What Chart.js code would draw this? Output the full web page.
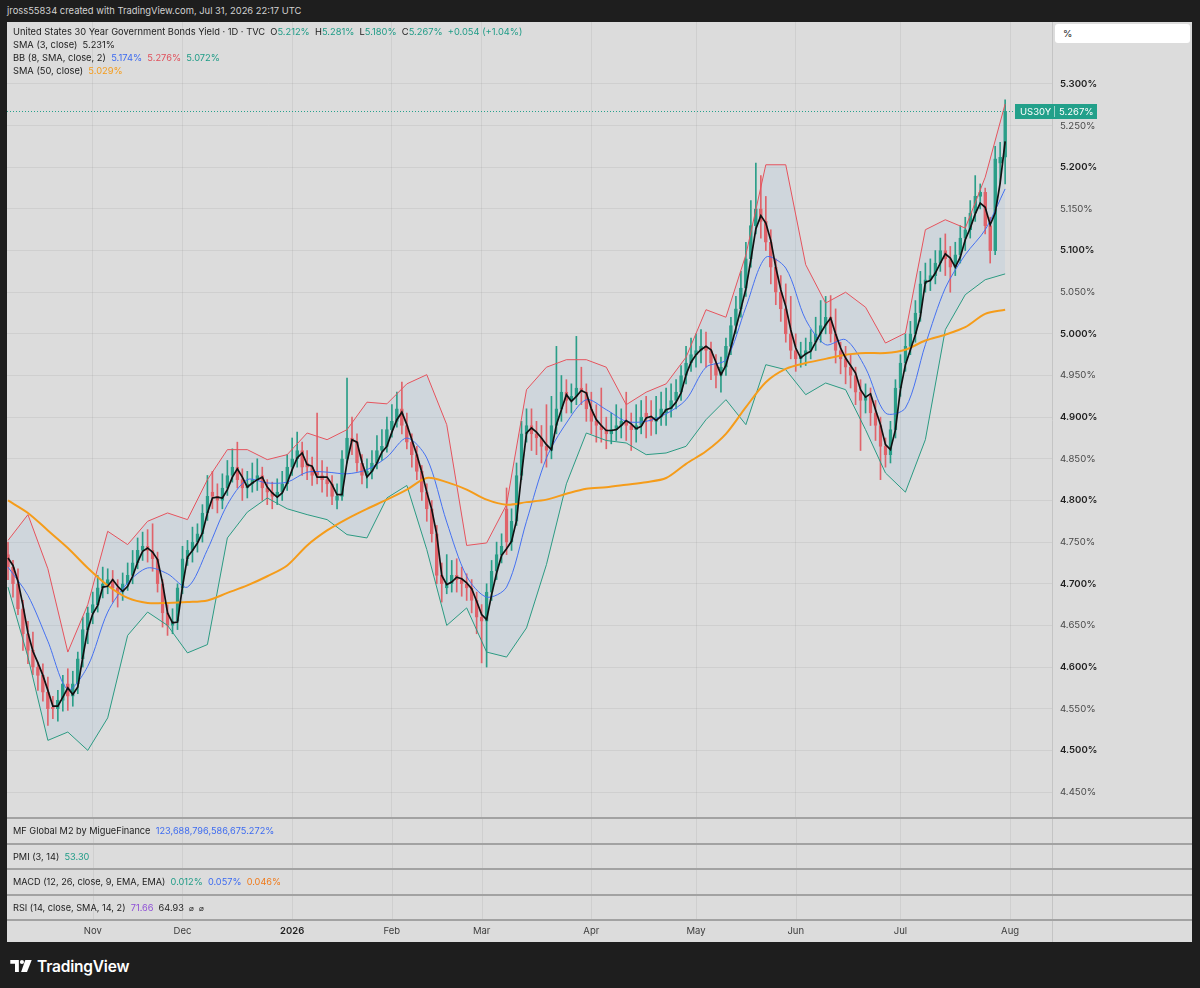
<!DOCTYPE html>
<html><head><meta charset="utf-8">
<script src="https://cdn.jsdelivr.net/npm/chart.js@4.4.1/dist/chart.umd.min.js"></script>
<style>
html,body{margin:0;padding:0;background:#1e1e1e;}
body{width:1200px;height:988px;position:relative;overflow:hidden;font-family:Inter,"Liberation Sans",Arial,sans-serif;}
#hdr{position:absolute;left:7px;top:5px;font-size:9.4px;color:#d2d2d2;white-space:pre;}
#panel{position:absolute;left:7px;top:22px;width:1185px;height:920px;background:#dcdcdc;}
#c{position:absolute;left:0;top:0;}
.lg{position:absolute;left:6px;font-size:9.3px;color:#1c1c1c;white-space:pre;line-height:13px;}
.pl{position:absolute;left:6px;font-size:9.2px;color:#1c1c1c;white-space:pre;line-height:14px;}
#pct{position:absolute;left:1048px;top:2px;width:135px;height:19px;background:#fff;border-radius:3px;font-size:9.5px;line-height:19px;color:#222;}
#pct span{padding-left:8px;}
#logo{position:absolute;left:10px;top:955px;height:22px;display:flex;align-items:center;color:#fff;font-size:15.5px;font-weight:600;letter-spacing:-0.2px;}
</style></head>
<body>
<div id="hdr">jross55834 created with TradingView.com, Jul 31, 2026 22:17 UTC</div>
<div id="panel">
  <canvas id="c" width="1185" height="920"></canvas>
  <div class="lg" style="top:3px">United States 30 Year Government Bonds Yield · 1D · TVC  O<span style="color:#1f9c87">5.212%</span>  H<span style="color:#1f9c87">5.281%</span>  L<span style="color:#1f9c87">5.180%</span>  C<span style="color:#1f9c87">5.267%</span>  <span style="color:#1f9c87">+0.054 (+1.04%)</span></div>
  <div class="lg" style="top:16px">SMA (3, close)  5.231%</div>
  <div class="lg" style="top:29px">BB (8, SMA, close, 2)  <span style="color:#3d6bf0">5.174%</span>  <span style="color:#e0505b">5.276%</span>  <span style="color:#1f9c87">5.072%</span></div>
  <div class="lg" style="top:42px">SMA (50, close)  <span style="color:#f59c1a">5.029%</span></div>
  <div class="pl" style="top:802px">MF Global M2 by MigueFinance  <span style="color:#3d6bf0">123,688,796,586,675.272%</span></div>
  <div class="pl" style="top:828px">PMI (3, 14)  <span style="color:#1f9c87">53.30</span></div>
  <div class="pl" style="top:853px">MACD (12, 26, close, 9, EMA, EMA)  <span style="color:#1f9c87">0.012%</span>  <span style="color:#3d6bf0">0.057%</span>  <span style="color:#f07a1a">0.046%</span></div>
  <div class="pl" style="top:879px">RSI (14, close, SMA, 14, 2)  <span style="color:#8e4fd6">71.66</span>  64.93  <span style="font-size:8px">⌀  ⌀</span></div>
  <div id="pct"><span>%</span></div>
</div>
<div id="logo">
  <svg width="22" height="12" viewBox="0 0 25 14" style="margin-right:5px">
    <path d="M0 0H10V14H5.5V4.5H0Z" fill="#fff"/>
    <circle cx="13.6" cy="2.4" r="2.4" fill="#fff"/>
    <path d="M17.5 0H25L19.5 14H12.6Z" fill="#fff"/>
  </svg>
  <span>TradingView</span>
</div>
<script>
// ---------------- data ----------------
const opens = [
4.735,4.72,4.70,4.67,4.64,4.62,4.60,4.59,4.57,4.552,
4.55,4.56,4.58,4.565,4.58,4.61,4.645,4.665,4.675,4.695,
4.70,4.705,4.695,4.69,4.70,4.71,4.725,4.74,4.745,4.74,
4.73,4.70,4.665,4.65,4.655,4.695,4.73,4.74,4.75,4.76,
4.785,4.81,4.805,4.80,4.815,4.83,4.84,4.825,4.815,4.82,
4.825,4.83,4.815,4.81,4.805,4.81,4.82,4.84,4.85,4.86,
4.845,4.84,4.835,4.83,4.825,4.82,4.80,4.805,4.85,4.875,
4.87,4.845,4.83,4.835,4.845,4.86,4.865,4.885,4.895,4.91,
4.89,4.87,4.855,4.835,4.81,4.79,4.76,4.71,4.695,4.70,
4.71,4.705,4.70,4.695,4.68,4.66,4.655,4.69,4.715,4.735,
4.79,4.75,4.775,4.83,4.88,4.89,4.88,4.875,4.865,4.86,
4.89,4.91,4.93,4.92,4.925,4.935,4.93,4.91,4.895,4.89,
4.885,4.88,4.885,4.89,4.895,4.89,4.885,4.89,4.905,4.90,
4.895,4.90,4.905,4.91,4.92,4.93,4.95,4.965,4.975,4.98,
4.985,4.98,4.965,4.95,4.96,4.985,5.01,5.03,5.055,5.09,
5.13,5.15,5.135,5.11,5.08,5.05,5.03,5.00,4.98,4.97,
4.975,4.98,4.99,5.00,5.01,5.02,5.00,4.98,4.97,4.96,
4.95,4.93,4.92,4.925,4.905,4.89,4.865,4.855,4.885,4.935,
4.965,4.985,5.00,5.025,5.06,5.065,5.07,5.085,5.10,5.09,
5.08,5.095,5.115,5.125,5.145,5.165,5.17,5.13,5.10,5.205,
5.212];
const highs = [
4.75,4.728,4.718,4.68,4.655,4.642,4.606,4.604,4.588,4.565,
4.572,4.59,4.598,4.595,4.618,4.66,4.672,4.69,4.71,4.72,
4.718,4.716,4.705,4.713,4.725,4.74,4.755,4.762,4.765,4.772,
4.738,4.705,4.675,4.67,4.70,4.745,4.752,4.768,4.772,4.795,
4.83,4.835,4.82,4.832,4.848,4.862,4.87,4.838,4.835,4.845,
4.85,4.84,4.825,4.822,4.826,4.835,4.855,4.875,4.882,4.87,
4.86,4.852,4.905,4.848,4.84,4.83,4.82,4.86,4.947,4.90,
4.88,4.855,4.85,4.86,4.878,4.885,4.90,4.915,4.93,4.942,
4.905,4.88,4.865,4.842,4.82,4.80,4.77,4.725,4.735,4.728,
4.73,4.72,4.712,4.705,4.69,4.675,4.70,4.728,4.75,4.76,
4.815,4.79,4.845,4.895,4.91,4.91,4.895,4.89,4.915,4.925,
4.985,4.95,4.945,4.94,4.997,4.96,4.94,4.93,4.915,4.935,
4.90,4.905,4.915,4.91,4.93,4.905,4.915,4.92,4.925,4.92,
4.925,4.93,4.935,4.94,4.945,4.962,4.985,4.995,5.00,5.005,
5.002,4.99,4.975,4.972,4.995,5.02,5.045,5.075,5.11,5.16,
5.205,5.19,5.165,5.125,5.09,5.07,5.06,5.045,5.00,4.99,
4.995,5.005,5.02,5.04,5.045,5.046,5.03,4.99,4.985,4.975,
4.96,4.945,4.94,4.935,4.92,4.90,4.875,4.895,4.945,4.975,
5.00,5.015,5.04,5.075,5.085,5.09,5.10,5.115,5.12,5.105,
5.11,5.13,5.14,5.16,5.19,5.18,5.175,5.14,5.225,5.23,
5.281];
const lows = [
4.705,4.684,4.663,4.62,4.604,4.591,4.572,4.559,4.53,4.538,
4.535,4.547,4.548,4.553,4.568,4.60,4.628,4.652,4.666,4.683,
4.688,4.678,4.672,4.68,4.692,4.70,4.718,4.728,4.726,4.715,
4.69,4.648,4.638,4.64,4.645,4.688,4.722,4.726,4.738,4.75,
4.776,4.79,4.785,4.79,4.806,4.822,4.815,4.80,4.803,4.81,
4.812,4.80,4.795,4.79,4.795,4.80,4.812,4.83,4.84,4.83,
4.825,4.818,4.82,4.81,4.805,4.795,4.79,4.80,4.845,4.855,
4.835,4.82,4.815,4.826,4.838,4.848,4.858,4.876,4.888,4.88,
4.862,4.84,4.825,4.80,4.775,4.75,4.70,4.678,4.688,4.69,
4.69,4.685,4.68,4.665,4.64,4.605,4.60,4.68,4.705,4.725,
4.735,4.74,4.77,4.825,4.87,4.86,4.855,4.845,4.84,4.85,
4.88,4.895,4.905,4.905,4.915,4.915,4.895,4.88,4.87,4.87,
4.862,4.868,4.872,4.875,4.872,4.86,4.87,4.88,4.875,4.878,
4.88,4.89,4.89,4.90,4.91,4.92,4.94,4.955,4.96,4.965,
4.96,4.945,4.935,4.93,4.95,4.975,5.00,5.02,5.045,5.08,
5.12,5.115,5.10,5.06,5.035,5.015,4.99,4.97,4.955,4.96,
4.962,4.97,4.98,4.99,5.00,4.99,4.965,4.952,4.94,4.935,
4.915,4.86,4.905,4.89,4.872,4.825,4.84,4.845,4.875,4.925,
4.955,4.975,4.99,5.015,5.05,5.052,5.06,5.075,5.07,5.05,
5.07,5.085,5.10,5.115,5.135,5.15,5.12,5.085,5.095,5.18,
5.18];
const closes = [
4.72,4.70,4.67,4.64,4.62,4.60,4.59,4.57,4.55,4.55,
4.56,4.58,4.565,4.58,4.61,4.645,4.665,4.675,4.695,4.70,
4.705,4.695,4.69,4.70,4.71,4.725,4.74,4.745,4.74,4.73,
4.70,4.665,4.65,4.655,4.695,4.73,4.74,4.75,4.76,4.785,
4.805,4.805,4.80,4.815,4.83,4.84,4.825,4.815,4.82,4.825,
4.83,4.815,4.81,4.805,4.81,4.82,4.84,4.85,4.86,4.84,
4.84,4.83,4.83,4.825,4.82,4.805,4.805,4.85,4.875,4.87,
4.845,4.83,4.835,4.845,4.86,4.865,4.885,4.895,4.91,4.89,
4.87,4.855,4.835,4.81,4.79,4.76,4.71,4.70,4.70,4.71,
4.705,4.70,4.695,4.68,4.66,4.655,4.69,4.715,4.735,4.745,
4.75,4.775,4.83,4.88,4.89,4.88,4.875,4.865,4.86,4.89,
4.91,4.93,4.92,4.925,4.935,4.93,4.91,4.895,4.89,4.885,
4.88,4.885,4.89,4.895,4.89,4.885,4.89,4.90,4.90,4.895,
4.90,4.91,4.91,4.92,4.93,4.95,4.965,4.975,4.98,4.985,
4.98,4.965,4.95,4.96,4.985,5.01,5.03,5.055,5.09,5.13,
5.15,5.135,5.11,5.08,5.05,5.03,5.00,4.98,4.97,4.975,
4.98,4.99,5.00,5.01,5.02,5.00,4.98,4.97,4.96,4.95,
4.93,4.92,4.925,4.905,4.89,4.865,4.855,4.885,4.935,4.965,
4.985,5.00,5.025,5.06,5.065,5.07,5.085,5.10,5.09,5.08,
5.095,5.115,5.125,5.145,5.165,5.17,5.13,5.10,5.21,5.212,
5.267];
const sma3 = [
4.731,4.722,4.703,4.674,4.641,4.619,4.605,4.590,4.572,4.553,
4.553,4.564,4.575,4.567,4.576,4.612,4.645,4.664,4.674,4.696,
4.697,4.705,4.697,4.691,4.697,4.709,4.726,4.739,4.743,4.738,
4.729,4.701,4.665,4.653,4.654,4.697,4.732,4.740,4.749,4.761,
4.785,4.803,4.804,4.803,4.813,4.828,4.838,4.828,4.816,4.821,
4.825,4.828,4.816,4.809,4.804,4.809,4.821,4.837,4.851,4.857,
4.843,4.841,4.828,4.828,4.828,4.819,4.807,4.807,4.846,4.873,
4.870,4.846,4.828,4.835,4.845,4.858,4.865,4.882,4.897,4.906,
4.891,4.873,4.855,4.834,4.810,4.789,4.759,4.710,4.699,4.702,
4.708,4.706,4.701,4.694,4.679,4.663,4.657,4.687,4.713,4.734,
4.742,4.751,4.776,4.831,4.881,4.887,4.882,4.875,4.867,4.861,
4.891,4.909,4.927,4.919,4.925,4.932,4.929,4.910,4.897,4.890,
4.884,4.884,4.885,4.890,4.896,4.892,4.886,4.889,4.899,4.901,
4.896,4.901,4.909,4.911,4.918,4.929,4.951,4.966,4.975,4.981,
4.985,4.981,4.966,4.951,4.962,4.984,5.007,5.030,5.054,5.089,
5.126,5.142,5.133,5.112,5.080,5.053,5.033,5.005,4.983,4.971,
4.976,4.979,4.990,5.001,5.011,5.019,5.000,4.983,4.971,4.962,
4.953,4.933,4.924,4.928,4.909,4.891,4.867,4.861,4.885,4.933,
4.963,4.981,4.999,5.021,5.062,5.064,5.073,5.085,5.096,5.091,
5.080,5.092,5.113,5.127,5.144,5.157,5.152,5.131,5.145,5.181,
5.231];
// indicator lines read at every 4th bar
const bandIdx = [0,4,8,12,16,20,24,28,32,36,40,44,48,52,56,60,64,68,72,76,80,84,88,92,96,100,104,108,112,116,120,124,128,132,136,140,144,148,152,156,160,164,168,172,176,180,184,188,192,196,200];
const bbUpper = [4.752,4.783,4.718,4.618,4.675,4.763,4.747,4.775,4.785,4.777,4.825,4.861,4.861,4.849,4.855,4.881,4.873,4.885,4.918,4.916,4.940,4.951,4.891,4.746,4.749,4.795,4.933,4.960,4.969,4.969,4.960,4.915,4.930,4.940,4.972,5.029,5.020,5.095,5.203,5.203,5.083,5.037,5.050,5.032,4.989,5.001,5.125,5.137,5.127,5.188,5.276];
const bbMiddle = [4.720,4.686,4.631,4.573,4.601,4.666,4.701,4.719,4.712,4.696,4.741,4.795,4.825,4.821,4.822,4.834,4.834,4.832,4.837,4.852,4.875,4.851,4.774,4.709,4.684,4.696,4.775,4.851,4.893,4.921,4.909,4.895,4.895,4.904,4.921,4.960,4.969,5.032,5.092,5.079,5.017,4.987,4.993,4.959,4.905,4.911,4.987,5.055,5.095,5.125,5.174];
const bbLower = [4.696,4.612,4.512,4.522,4.500,4.539,4.638,4.666,4.650,4.617,4.627,4.755,4.786,4.803,4.790,4.783,4.777,4.759,4.755,4.803,4.818,4.741,4.650,4.671,4.618,4.612,4.647,4.723,4.820,4.881,4.872,4.869,4.855,4.857,4.865,4.897,4.921,4.891,4.963,4.957,4.927,4.941,4.933,4.885,4.833,4.810,4.873,5.005,5.047,5.065,5.072];
const sma50 = [4.800,4.785,4.764,4.743,4.719,4.698,4.683,4.677,4.677,4.678,4.680,4.689,4.698,4.709,4.722,4.746,4.764,4.778,4.790,4.801,4.813,4.827,4.822,4.813,4.801,4.795,4.798,4.801,4.808,4.814,4.816,4.819,4.822,4.827,4.844,4.859,4.880,4.912,4.942,4.958,4.965,4.970,4.975,4.977,4.977,4.981,4.992,4.999,5.008,5.024,5.029];
// tick labels
const yTicks = [4.45,4.50,4.55,4.60,4.65,4.70,4.75,4.80,4.85,4.90,4.95,5.00,5.05,5.10,5.15,5.20,5.25,5.30];
const monthIdx = [17,35,57,77,95,117,138,158,179,201];
const monthLabels = ['Nov','Dec','2026','Feb','Mar','Apr','May','Jun','Jul','Aug'];
const symbolName = 'US30Y';

// ---------------- chart ----------------
const GREEN = '#2a9e88', RED = '#e0636a';
const GREEN_F = 'rgba(42,158,136,0.6)', RED_F = 'rgba(224,99,106,0.6)';
const isUp = closes.map((c,i)=> c >= opens[i]);
const lineCol = isUp.map(u => u ? GREEN : RED);
const fillCol = isUp.map(u => u ? GREEN_F : RED_F);
const wickData = highs.map((h,i)=>({x:i, y:[lows[i], h]}));
const bodyData = opens.map((o,i)=>({x:i, y:[Math.min(o,closes[i]), Math.max(o,closes[i])]}));
const pts = arr => bandIdx.map((x,k)=>({x, y:arr[k]}));
const GRID = 'rgba(0,0,0,0.055)';
const FONT = 'Inter, "Liberation Sans", Arial, sans-serif';
const isMajor = ctx => !!(ctx && ctx.tick) && Math.round(ctx.tick.value*100)%10===0;

const extras = {
  id:'extras',
  afterDraw(chart){
    const {ctx, chartArea:a, scales:{x,y}} = chart;
    ctx.save();
    ctx.strokeStyle = GRID; ctx.lineWidth = 1;
    monthIdx.forEach(v=>{
      const px = Math.round(x.getPixelForValue(v))+0.5;
      if (px > a.right) return;
      ctx.beginPath(); ctx.moveTo(px, a.bottom); ctx.lineTo(px, a.bottom+102); ctx.stroke();
    });
    ctx.strokeStyle = '#c4c4c4';
    ctx.beginPath(); ctx.moveTo(a.right+0.5, a.bottom); ctx.lineTo(a.right+0.5, a.bottom+124); ctx.stroke();
    ctx.fillStyle = '#a2a2a2';
    [0,26,51,77,102].forEach(off=> ctx.fillRect(0, a.bottom+off-1, chart.width, 2));
    ctx.textAlign = 'center'; ctx.textBaseline = 'middle';
    monthIdx.forEach((v,k)=>{
      const px = x.getPixelForValue(v);
      if (px > a.right) return;
      ctx.font = (monthLabels[k]==='2026' ? '600 ' : '400 ') + '9.5px ' + FONT;
      ctx.fillStyle = monthLabels[k]==='2026' ? '#1e1e1e' : '#3c3c3c';
      ctx.fillText(monthLabels[k], px, a.bottom+113);
    });
    const last = closes[closes.length-1];
    const py = Math.round(y.getPixelForValue(last))+0.5;
    ctx.strokeStyle = '#26a08c'; ctx.setLineDash([1,2]);
    ctx.beginPath(); ctx.moveTo(a.left, py); ctx.lineTo(a.right-37, py); ctx.stroke();
    ctx.setLineDash([]);
    const bx = a.right-37, bw = 82, bh = 15;
    ctx.fillStyle = '#22a08a';
    ctx.fillRect(bx, py-bh/2, bw, bh);
    ctx.strokeStyle = 'rgba(255,255,255,0.55)';
    ctx.beginPath(); ctx.moveTo(bx+39.5, py-bh/2+2); ctx.lineTo(bx+39.5, py+bh/2-2); ctx.stroke();
    ctx.fillStyle = '#fff'; ctx.font = '400 9.5px ' + FONT; ctx.textAlign='left';
    ctx.fillText(symbolName, bx+5, py+0.5);
    ctx.fillText(last.toFixed(3)+'%', bx+44, py+0.5);
    ctx.restore();
  }
};

new Chart(document.getElementById('c'), {
  type:'bar',
  data:{datasets:[
    {type:'line', label:'BB upper', data:pts(bbUpper), borderColor:'#e5535d', borderWidth:1, pointRadius:0, fill:'+1', backgroundColor:'rgba(40,140,230,0.07)', order:4, tension:0},
    {type:'line', label:'BB lower', data:pts(bbLower), borderColor:'#2b9a82', borderWidth:1, pointRadius:0, fill:false, order:4, tension:0},
    {type:'line', label:'BB basis', data:pts(bbMiddle), borderColor:'#4470f0', borderWidth:1, pointRadius:0, fill:false, order:3, tension:0.3},
    {type:'bar', label:'wicks', data:wickData, backgroundColor:lineCol, barThickness:1, grouped:false, order:6, minBarLength:1},
    {type:'bar', label:'bodies', data:bodyData, backgroundColor:fillCol, borderColor:lineCol, borderWidth:1, borderSkipped:false, barThickness:3, grouped:false, order:5, minBarLength:1},
    {type:'line', label:'SMA 50', data:pts(sma50), borderColor:'#f59c1a', borderWidth:2, pointRadius:0, fill:false, order:2, tension:0.3},
    {type:'line', label:'SMA 3', data:sma3.map((v,i)=>({x:i,y:v})), borderColor:'#111111', borderWidth:1.7, pointRadius:0, fill:false, order:1, tension:0}
  ]},
  options:{
    responsive:false, animation:false, devicePixelRatio:1,
    layout:{padding:{left:0,right:0,top:0,bottom:124}},
    plugins:{legend:{display:false}, tooltip:{enabled:false}, filler:{drawTime:'beforeDatasetsDraw'}},
    scales:{
      x:{type:'linear', min:-0.2, max:209.4, offset:false,
        grid:{color:GRID, drawTicks:false, offset:false}, border:{display:false},
        ticks:{display:false},
        afterBuildTicks:s=>{ s.ticks = monthIdx.map(v=>({value:v})); },
        afterFit:s=>{ s.height = 0; s.paddingLeft = 0; s.paddingRight = 0; }
      },
      y:{position:'right', min:4.4188, max:5.3744,
        grid:{color:GRID, drawTicks:false}, border:{color:'#c4c4c4'},
        afterBuildTicks:s=>{ s.ticks = yTicks.map(v=>({value:v})); },
        afterFit:s=>{ s.width = 140; s.paddingTop = 0; s.paddingBottom = 0; },
        ticks:{padding:8, autoSkip:false,
          callback:v=> Number(v).toFixed(3)+'%',
          color:ctx=> isMajor(ctx) ? '#1f1f1f' : '#4a4a4a',
          font:ctx=> ({family:FONT, size:9.6, weight: isMajor(ctx) ? '600' : '400'})
        }
      }
    }
  },
  plugins:[extras]
});
</script>
</body></html>
